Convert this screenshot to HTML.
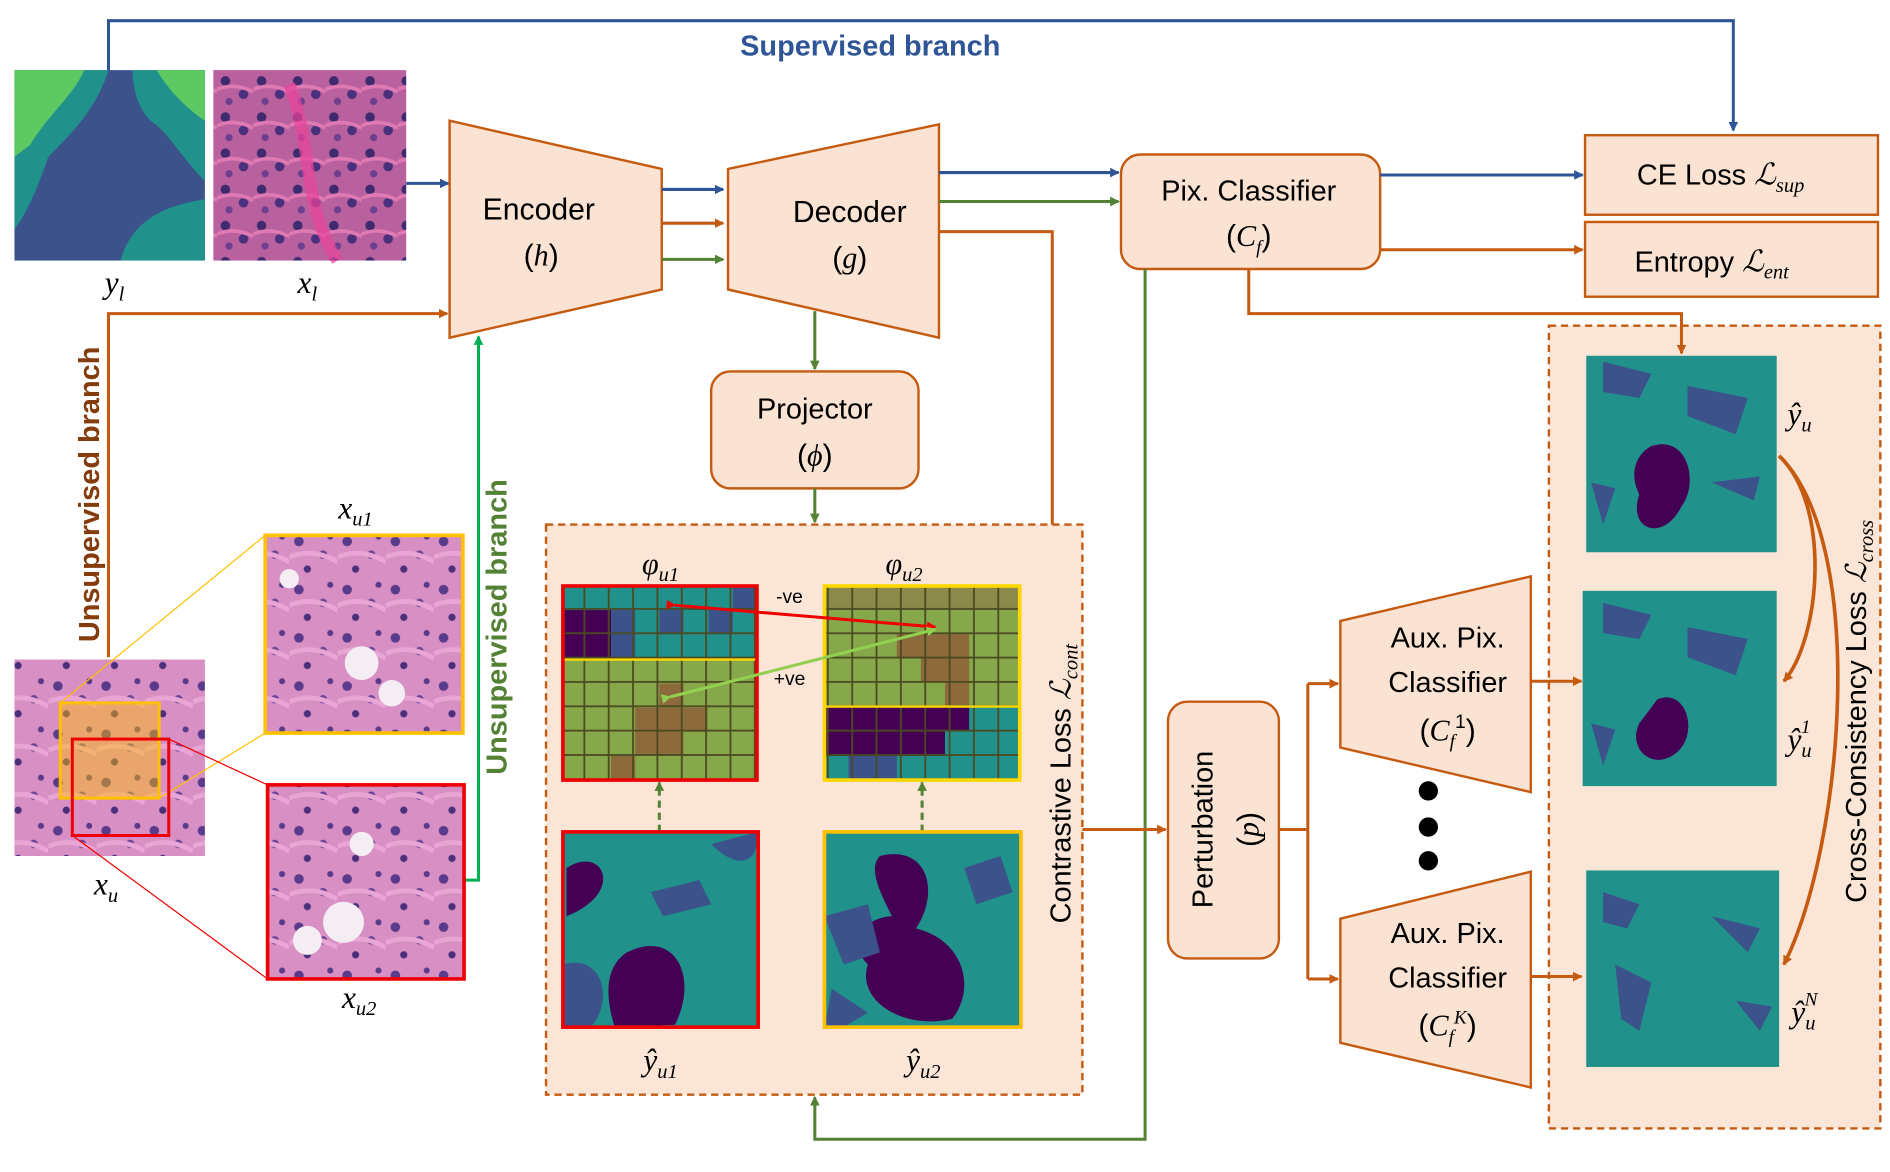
<!DOCTYPE html>
<html><head><meta charset="utf-8"><style>
html,body{margin:0;padding:0;background:#fff;}
svg{display:block;}
text{font-family:"Liberation Sans",sans-serif;}
.m{font-family:"Liberation Serif",serif;font-style:italic;}
</style></head><body>
<svg width="1890" height="1172" viewBox="0 0 1568 972" xmlns="http://www.w3.org/2000/svg">
<defs>
<marker id="ab" markerWidth="8" markerHeight="8" refX="7" refY="4" orient="auto" markerUnits="userSpaceOnUse"><path d="M0,0L8,4L0,8z" fill="#2f5597"/></marker>
<marker id="ao" markerWidth="8" markerHeight="8" refX="7" refY="4" orient="auto" markerUnits="userSpaceOnUse"><path d="M0,0L8,4L0,8z" fill="#c55a11"/></marker>
<marker id="ag" markerWidth="8" markerHeight="8" refX="7" refY="4" orient="auto" markerUnits="userSpaceOnUse"><path d="M0,0L8,4L0,8z" fill="#548235"/></marker>
<marker id="ag2" markerWidth="8" markerHeight="8" refX="7" refY="4" orient="auto" markerUnits="userSpaceOnUse"><path d="M0,0L8,4L0,8z" fill="#00b050"/></marker>
<marker id="ar" markerWidth="8" markerHeight="8" refX="7" refY="4" orient="auto" markerUnits="userSpaceOnUse"><path d="M0,0L8,4L0,8z" fill="#e00"/></marker>
<marker id="al" markerWidth="8" markerHeight="8" refX="7" refY="4" orient="auto" markerUnits="userSpaceOnUse"><path d="M0,0L8,4L0,8z" fill="#92d050"/></marker>
<pattern id="grid" width="20.2" height="20.2" patternUnits="userSpaceOnUse"><rect width="20.2" height="20.2" fill="none" stroke="#4a4a20" stroke-width="1.5"/></pattern>
<pattern id="histo" width="40" height="40" patternUnits="userSpaceOnUse">
<rect width="40" height="40" fill="#d78fc4"/>
<circle cx="8" cy="9" r="4" fill="#5a3a8a"/><circle cx="28" cy="20" r="3.5" fill="#6a4596"/><circle cx="15" cy="32" r="3" fill="#4b2f7a"/><path d="M0,22 Q20,14 40,26" stroke="#e9a5d3" stroke-width="4" fill="none"/><circle cx="34" cy="5" r="2.5" fill="#5a3a8a"/></pattern>
<pattern id="histo2" width="30" height="30" patternUnits="userSpaceOnUse">
<rect width="30" height="30" fill="#b9619f"/>
<circle cx="7" cy="7" r="4" fill="#3f2a6e"/><circle cx="22" cy="18" r="4" fill="#4a2f7c"/><circle cx="10" cy="24" r="3" fill="#6d3f8f"/><path d="M0,14 Q15,8 30,16" stroke="#e07ab5" stroke-width="3" fill="none"/></pattern>
</defs>

<path d="M90,62 V17 H1438 V108" fill="none" stroke="#2f5597" stroke-width="2.5" marker-end="url(#ab)"/>
<text x="722" y="46" font-size="24" font-weight="bold" fill="#2f5597" text-anchor="middle">Supervised branch</text>

<rect x="12" y="58" width="158" height="158" fill="#3b528b"/>
<path d="M12,58 H90 C80,90 60,110 40,130 C30,160 20,180 12,190 Z" fill="#21918c"/>
<path d="M12,58 H70 C60,80 40,95 25,120 L12,130Z" fill="#5ec962"/>
<path d="M110,58 H170 V150 C150,130 140,110 125,100 C115,90 110,75 110,58Z" fill="#21918c"/>
<path d="M130,58 H170 V100 C155,90 140,75 130,58Z" fill="#5ec962"/>
<path d="M100,216 C110,180 140,170 170,165 V216Z" fill="#21918c"/>
<rect x="177" y="58" width="160" height="158" fill="url(#histo2)"/>
<path d="M240,70 C260,120 250,170 280,216" stroke="#e9439a" stroke-width="10" fill="none" opacity=".7"/>
<text x="95" y="243" class="m" font-size="26" text-anchor="middle">y<tspan font-size="17" dy="6">l</tspan></text>
<text x="255" y="243" class="m" font-size="26" text-anchor="middle">x<tspan font-size="17" dy="6">l</tspan></text>
<line x1="337" y1="152" x2="372" y2="152" stroke="#2f5597" stroke-width="2.5" marker-end="url(#ab)"/>

<path d="M373,100 L549,140 L549,240 L373,280Z" fill="#fbe3d4" stroke="#c55a11" stroke-width="2"/>
<text x="447" y="182" font-size="25" text-anchor="middle">Encoder</text>
<text x="449" y="220" font-size="25" text-anchor="middle">(<tspan class="m">h</tspan>)</text>
<line x1="549" y1="157" x2="600" y2="157" stroke="#2f5597" stroke-width="2.5" marker-end="url(#ab)"/>
<line x1="549" y1="185" x2="600" y2="185" stroke="#c55a11" stroke-width="2.5" marker-end="url(#ao)"/>
<line x1="549" y1="215" x2="600" y2="215" stroke="#548235" stroke-width="2.5" marker-end="url(#ag)"/>
<path d="M604,140 L779,103 L779,280 L604,240Z" fill="#fbe3d4" stroke="#c55a11" stroke-width="2"/>
<text x="705" y="184" font-size="25" text-anchor="middle">Decoder</text>
<text x="705" y="222" font-size="25" text-anchor="middle">(<tspan class="m">g</tspan>)</text>
<line x1="779" y1="143" x2="928" y2="143" stroke="#2f5597" stroke-width="2.5" marker-end="url(#ab)"/>
<line x1="779" y1="167" x2="928" y2="167" stroke="#548235" stroke-width="2.5" marker-end="url(#ag)"/>
<path d="M779,192 H873 V435" fill="none" stroke="#c55a11" stroke-width="2.5"/>

<rect x="930" y="128" width="215" height="95" rx="16" fill="#fbe3d4" stroke="#c55a11" stroke-width="2"/>
<text x="1036" y="166" font-size="24" text-anchor="middle">Pix. Classifier</text>
<text x="1036" y="204" font-size="25" text-anchor="middle">(<tspan class="m">C</tspan><tspan class="m" font-size="16" dy="6">f</tspan><tspan dy="-6">)</tspan></text>
<line x1="1145" y1="145" x2="1313" y2="145" stroke="#2f5597" stroke-width="2.5" marker-end="url(#ab)"/>
<line x1="1145" y1="207" x2="1313" y2="207" stroke="#c55a11" stroke-width="2.5" marker-end="url(#ao)"/>
<rect x="1315" y="112" width="243" height="66" fill="#fbe3d4" stroke="#c55a11" stroke-width="2"/>
<text x="1358" y="153" font-size="24">CE Loss <tspan class="m" font-size="25">ℒ</tspan><tspan class="m" font-size="17" dy="6">sup</tspan></text>
<rect x="1315" y="184" width="243" height="62" fill="#fbe3d4" stroke="#c55a11" stroke-width="2"/>
<text x="1356" y="225" font-size="24">Entropy <tspan class="m" font-size="25">ℒ</tspan><tspan class="m" font-size="17" dy="6">ent</tspan></text>
<path d="M950,223 V945 H676 V910" fill="none" stroke="#548235" stroke-width="2.5" marker-end="url(#ag)"/>

<path d="M90,545 V260 H371" fill="none" stroke="#c55a11" stroke-width="2.5" marker-end="url(#ao)"/>
<text transform="translate(82,410) rotate(-90)" font-size="24" font-weight="bold" fill="#843c0c" text-anchor="middle">Unsupervised branch</text>
<path d="M385,730 H397 V279" fill="none" stroke="#00b050" stroke-width="2.5" marker-end="url(#ag2)"/>
<text transform="translate(420,520) rotate(-90)" font-size="24" font-weight="bold" fill="#548235" text-anchor="middle">Unsupervised branch</text>

<rect x="12" y="547" width="158" height="163" fill="url(#histo)"/>
<line x1="50" y1="583" x2="220" y2="444" stroke="#ffc000" stroke-width="1"/>
<line x1="132" y1="662" x2="220" y2="608" stroke="#ffc000" stroke-width="1"/>
<line x1="60" y1="693" x2="222" y2="812" stroke="#e00" stroke-width="1"/>
<line x1="140" y1="613" x2="222" y2="651" stroke="#e00" stroke-width="1"/>
<rect x="50" y="583" width="82" height="79" fill="#ffc000" fill-opacity=".45" stroke="#ffc000" stroke-width="2.5"/>
<rect x="60" y="613" width="80" height="80" fill="none" stroke="#e00" stroke-width="2.5"/>
<text x="88" y="742" class="m" font-size="26" text-anchor="middle">x<tspan font-size="17" dy="6">u</tspan></text>
<rect x="220" y="444" width="164" height="164" fill="url(#histo)" stroke="#ffc000" stroke-width="3"/>
<circle cx="300" cy="550" r="14" fill="#f4eef4"/><circle cx="325" cy="575" r="11" fill="#f4eef4"/><circle cx="240" cy="480" r="8" fill="#f4eef4"/>
<rect x="222" y="651" width="163" height="161" fill="url(#histo)" stroke="#e00" stroke-width="3"/>
<circle cx="285" cy="765" r="17" fill="#f4eef4"/><circle cx="255" cy="780" r="12" fill="#f4eef4"/><circle cx="300" cy="700" r="10" fill="#f4eef4"/>
<text x="295" y="430" class="m" font-size="26" text-anchor="middle">x<tspan font-size="17" dy="6">u1</tspan></text>
<text x="298" y="836" class="m" font-size="26" text-anchor="middle">x<tspan font-size="17" dy="6">u2</tspan></text>

<line x1="676" y1="258" x2="676" y2="306" stroke="#548235" stroke-width="2.5" marker-end="url(#ag)"/>
<rect x="590" y="308" width="172" height="97" rx="16" fill="#fbe3d4" stroke="#c55a11" stroke-width="2"/>
<text x="676" y="347" font-size="24" text-anchor="middle">Projector</text>
<text x="676" y="386" font-size="25" text-anchor="middle">(<tspan class="m">ϕ</tspan>)</text>
<line x1="676" y1="405" x2="676" y2="433" stroke="#548235" stroke-width="2.5" marker-end="url(#ag)"/>

<rect x="453" y="435" width="445" height="473" fill="#fbe5d6" stroke="#c55a11" stroke-width="2" stroke-dasharray="6,4"/>
<text transform="translate(888,650) rotate(-90)" font-size="24" text-anchor="middle">Contrastive Loss <tspan class="m">ℒ</tspan><tspan class="m" font-size="17" dy="6">cont</tspan></text>
<text x="548" y="476" class="m" font-size="25" text-anchor="middle">φ<tspan font-size="17" dy="6">u1</tspan></text>
<text x="750" y="476" class="m" font-size="25" text-anchor="middle">φ<tspan font-size="17" dy="6">u2</tspan></text>
<rect x="467" y="486" width="161" height="61" fill="#21918c"/>
<rect x="467" y="506" width="40" height="41" fill="#440154"/>
<rect x="507" y="506" width="20" height="20" fill="#3b528b"/><rect x="547" y="506" width="20" height="20" fill="#3b528b"/><rect x="608" y="486" width="20" height="20" fill="#3b528b"/><rect x="588" y="506" width="20" height="20" fill="#3b528b"/><rect x="507" y="526" width="20" height="21" fill="#3b528b"/>
<rect x="467" y="547" width="161" height="100" fill="#86a84a"/>
<rect x="527" y="587" width="40" height="40" fill="#8c6a3c"/><rect x="567" y="587" width="20" height="20" fill="#8c6a3c"/><rect x="507" y="627" width="20" height="20" fill="#8c6a3c"/><rect x="547" y="567" width="20" height="20" fill="#8c6a3c"/>
<rect x="467" y="486" width="161" height="161" fill="url(#grid)"/>
<line x1="467" y1="547" x2="628" y2="547" stroke="#ffd700" stroke-width="2"/>
<rect x="467" y="486" width="161" height="161" fill="none" stroke="#e00" stroke-width="3"/>
<rect x="684" y="486" width="162" height="100" fill="#86a84a"/>
<rect x="684" y="486" width="162" height="20" fill="#8c8a4a"/>
<rect x="764" y="526" width="40" height="40" fill="#8c6a3c"/><rect x="744" y="526" width="20" height="20" fill="#8c6a3c"/><rect x="784" y="566" width="20" height="20" fill="#8c6a3c"/>
<rect x="684" y="586" width="162" height="61" fill="#440154"/>
<rect x="804" y="586" width="42" height="41" fill="#21918c"/><rect x="784" y="606" width="62" height="21" fill="#21918c"/><rect x="684" y="627" width="162" height="20" fill="#21918c"/><rect x="704" y="627" width="40" height="20" fill="#3b528b"/>
<rect x="684" y="486" width="162" height="161" fill="url(#grid)"/>
<line x1="684" y1="586" x2="846" y2="586" stroke="#ffd700" stroke-width="2"/>
<rect x="684" y="486" width="162" height="161" fill="none" stroke="#ffd700" stroke-width="3"/>
<line x1="560" y1="502" x2="776" y2="520" stroke="#e00" stroke-width="2.5" marker-end="url(#ar)" marker-start="url(#ar)"/>
<line x1="556" y1="578" x2="776" y2="522" stroke="#92d050" stroke-width="2.5" marker-end="url(#al)" marker-start="url(#al)"/>
<text x="655" y="500" font-size="16" text-anchor="middle">-ve</text>
<text x="655" y="568" font-size="16" text-anchor="middle">+ve</text>
<line x1="547" y1="690" x2="547" y2="649" stroke="#548235" stroke-width="2.5" stroke-dasharray="6,4" marker-end="url(#ag)"/>
<line x1="765" y1="690" x2="765" y2="649" stroke="#548235" stroke-width="2.5" stroke-dasharray="6,4" marker-end="url(#ag)"/>
<rect x="467" y="690" width="162" height="162" fill="#21918c"/>
<path d="M470,720 C500,700 520,740 470,760Z M520,790 C560,770 580,810 560,850 L510,852 C500,820 505,800 520,790Z" fill="#440154"/>
<path d="M467,800 C500,790 510,830 490,852 H467Z M590,700 C610,720 629,720 629,690Z M540,740 l40,-10 l10,20 l-40,10Z" fill="#3b528b"/>
<rect x="467" y="690" width="162" height="162" fill="none" stroke="#e00" stroke-width="3"/>
<rect x="684" y="690" width="163" height="162" fill="#21918c"/>
<path d="M730,710 C770,700 780,740 760,770 C800,780 810,820 790,845 C750,855 710,830 720,800 C700,780 720,760 740,760 C730,740 720,720 730,710Z" fill="#440154"/>
<path d="M684,760 L720,750 L730,790 L700,800Z M800,720 l30,-10 l10,30 l-30,10Z M690,820 l30,20 l-20,12 h-16Z" fill="#3b528b"/>
<rect x="684" y="690" width="163" height="162" fill="none" stroke="#ffc000" stroke-width="3"/>
<text x="548" y="888" class="m" font-size="26" text-anchor="middle">ŷ<tspan font-size="17" dy="6">u1</tspan></text>
<text x="766" y="888" class="m" font-size="26" text-anchor="middle">ŷ<tspan font-size="17" dy="6">u2</tspan></text>

<line x1="898" y1="688" x2="967" y2="688" stroke="#c55a11" stroke-width="2.5" marker-end="url(#ao)"/>
<rect x="969" y="582" width="92" height="213" rx="16" fill="#fbe3d4" stroke="#c55a11" stroke-width="2"/>
<text transform="translate(1006,688) rotate(-90)" font-size="24" text-anchor="middle">Perturbation</text>
<text transform="translate(1044,688) rotate(-90)" font-size="25" text-anchor="middle">(<tspan class="m">p</tspan>)</text>
<path d="M1061,688 H1085 M1085,567 V812" fill="none" stroke="#c55a11" stroke-width="2.5"/>
<line x1="1085" y1="567" x2="1110" y2="567" stroke="#c55a11" stroke-width="2.5" marker-end="url(#ao)"/>
<line x1="1085" y1="812" x2="1110" y2="812" stroke="#c55a11" stroke-width="2.5" marker-end="url(#ao)"/>

<!-- right box -->
<rect x="1285" y="270" width="275" height="666" fill="#fbe5d6" stroke="#c55a11" stroke-width="2" stroke-dasharray="6,4"/>

<path d="M1112,515 L1270,478 L1270,657 L1112,620Z" fill="#fbe3d4" stroke="#c55a11" stroke-width="2"/>
<text x="1201" y="537" font-size="24" text-anchor="middle">Aux. Pix.</text>
<text x="1201" y="574" font-size="24" text-anchor="middle">Classifier</text>
<text x="1201" y="614" font-size="25" text-anchor="middle">(<tspan class="m">C</tspan><tspan class="m" font-size="16" dy="6">f</tspan><tspan font-size="16" dy="-16">1</tspan><tspan dy="10">)</tspan></text>
<path d="M1112,762 L1270,723 L1270,902 L1112,865Z" fill="#fbe3d4" stroke="#c55a11" stroke-width="2"/>
<text x="1201" y="782" font-size="24" text-anchor="middle">Aux. Pix.</text>
<text x="1201" y="819" font-size="24" text-anchor="middle">Classifier</text>
<text x="1201" y="859" font-size="25" text-anchor="middle">(<tspan class="m">C</tspan><tspan class="m" font-size="16" dy="6">f</tspan><tspan class="m" font-size="16" dy="-16">K</tspan><tspan dy="10">)</tspan></text>
<circle cx="1185" cy="656" r="8" fill="#000"/><circle cx="1185" cy="686" r="8" fill="#000"/><circle cx="1185" cy="714" r="8" fill="#000"/>

<g>
<rect x="1316" y="295" width="158" height="163" fill="#21918c"/>
<path d="M1370,370 C1400,360 1410,400 1395,420 C1380,450 1350,440 1360,410 C1350,390 1360,375 1370,370Z" fill="#440154"/>
<path d="M1330,300 l40,10 l-10,20 l-30,-5Z M1400,320 l50,10 l-10,30 l-40,-15Z M1320,400 l20,5 l-10,30Z M1420,400 l40,-5 l-5,20Z" fill="#3b528b"/>
</g>
<g>
<rect x="1313" y="490" width="161" height="162" fill="#21918c"/>
<path d="M1375,580 C1400,570 1410,610 1390,625 C1370,640 1350,620 1360,600Z" fill="#440154"/>
<path d="M1330,500 l40,10 l-10,20 l-30,-5Z M1400,520 l50,10 l-10,30 l-40,-15Z M1320,600 l20,5 l-10,30Z" fill="#3b528b"/>
</g>
<g>
<rect x="1316" y="722" width="160" height="163" fill="#21918c"/>
<path d="M1330,740 l30,10 l-10,20 l-20,-5Z M1340,800 l30,15 l-10,40 l-15,-10Z M1420,760 l40,10 l-10,20Z M1440,830 l30,5 l-10,20Z" fill="#3b528b"/>
</g>
<line x1="1270" y1="565" x2="1312" y2="565" stroke="#c55a11" stroke-width="2.5" marker-end="url(#ao)"/>
<line x1="1270" y1="810" x2="1312" y2="810" stroke="#c55a11" stroke-width="2.5" marker-end="url(#ao)"/>
<path d="M1036,223 V260 H1395 V293" fill="none" stroke="#c55a11" stroke-width="2.5" marker-end="url(#ao)"/>
<text x="1493" y="352" class="m" font-size="26" text-anchor="middle">ŷ<tspan font-size="17" dy="6">u</tspan></text>
<text x="1493" y="622" class="m" font-size="26" text-anchor="middle">ŷ<tspan font-size="17" dy="6">u</tspan><tspan font-size="16" dx="-9" dy="-20">1</tspan></text>
<text x="1497" y="848" class="m" font-size="26" text-anchor="middle">ŷ<tspan font-size="17" dy="6">u</tspan><tspan font-size="16" dx="-9" dy="-20">N</tspan></text>
<path d="M1476,378 C1520,420 1510,530 1480,565" fill="none" stroke="#c55a11" stroke-width="3" marker-end="url(#ao)"/>
<path d="M1476,378 C1550,450 1530,700 1480,800" fill="none" stroke="#c55a11" stroke-width="3" marker-end="url(#ao)"/>
<text transform="translate(1548,590) rotate(-90)" font-size="24" text-anchor="middle">Cross-Consistency Loss <tspan class="m">ℒ</tspan><tspan class="m" font-size="17" dy="6">cross</tspan></text>
</svg>
</body></html>
